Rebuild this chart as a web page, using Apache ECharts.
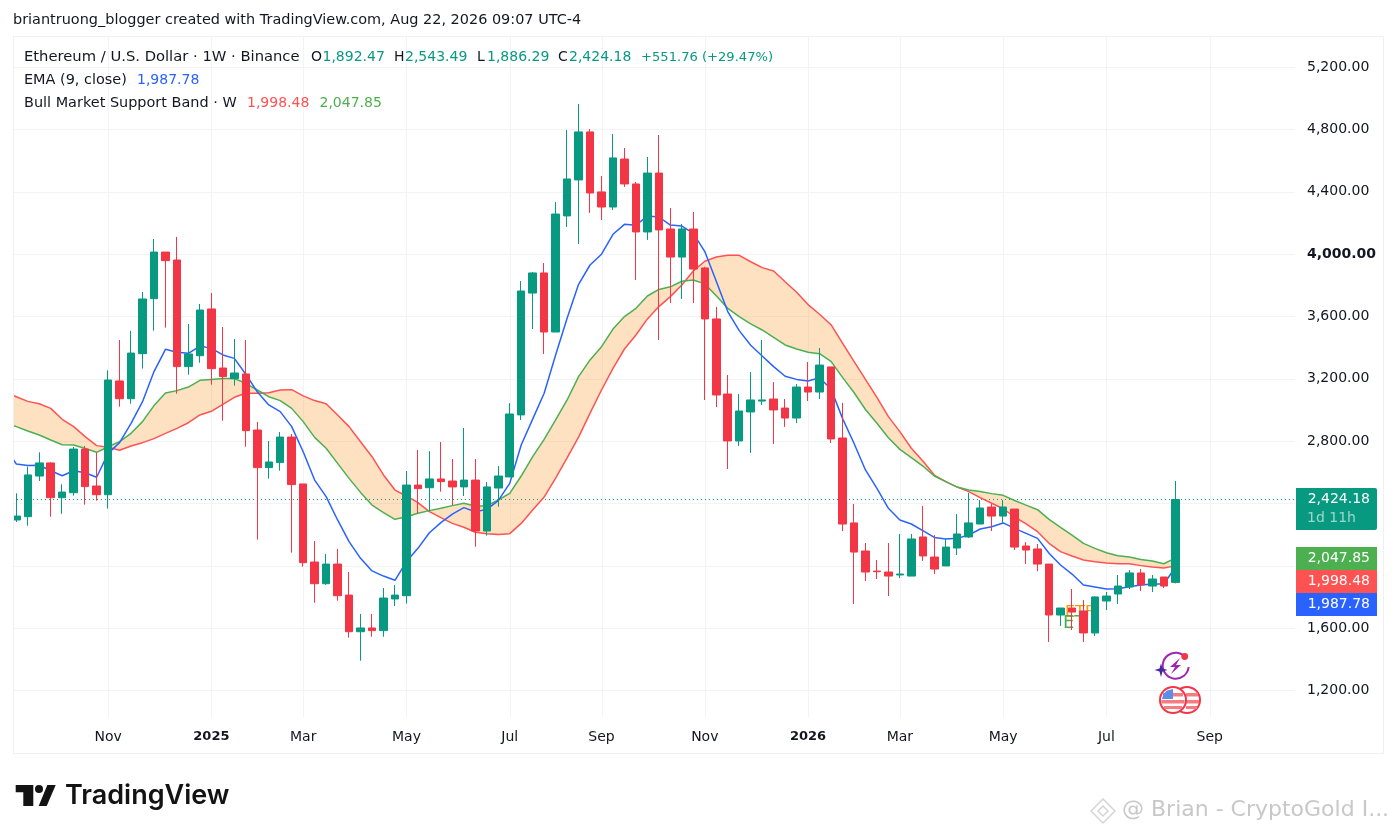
<!DOCTYPE html>
<html><head><meta charset="utf-8">
<style>html,body{margin:0;padding:0;background:#fff}#c{width:1397px;height:836px}</style>
<script src="https://cdn.jsdelivr.net/npm/echarts@6/dist/echarts.min.js"></script>
</head><body><div id="c"></div>
<script>
const opens=[2293,2314,2575,2659,2436,2468,2748,2511,2455,3185,3071,3360,3713,4012,3961,3277,3347,3647,3268,3200,3230,2870,2629,2661,2825,2524,2023,1884,2010,1811,1576,1600,1583,1786,1807,2517,2500,2556,2543,2505,2549,2222,2498,2569,2967,3749,3878,3499,4244,4475,4783,4398,4301,4609,4449,4141,4519,4160,3980,4160,3910,3583,3101,2800,2986,3056,3069,3011,2947,3146,3114,3275,2819,2274,2094,1965,1959,1940,1933,2184,2055,1998,2113,2184,2267,2376,2318,2363,2126,2107,2010,1683,1728,1709,1568,1773,1818,1863,1953,1869,1927,1892.47];
const highs=[2464,2635,2727,2663,2522,2761,2768,2725,3253,3448,3506,3756,4096,4012,4109,3551,3679,3749,3531,3454,3448,2922,2800,2857,2845,2524,2158,2075,2107,1959,1690,1690,1856,1876,2607,2742,2735,2793,2684,2883,2684,2537,2639,3043,3826,3884,3942,4333,4795,4962,4802,4500,4770,4680,4462,4622,4763,4295,4192,4269,3918,3660,3223,3101,3242,3448,3178,3069,3165,3307,3396,3275,3044,2395,2145,2036,2145,2203,2203,2383,2196,2171,2331,2466,2421,2395,2421,2363,2151,2139,2010,1728,1850,1779,1805,1831,1940,1972,1978,1940,1927,2543.49];
const lows=[2280,2256,2543,2314,2333,2449,2391,2417,2366,3020,3039,3264,3508,3527,3103,3225,3302,3161,2930,3155,2763,2167,2558,2609,2083,1993,1762,1876,1775,1538,1390,1544,1544,1741,1756,2336,2351,2475,2389,2447,2122,2192,2378,2569,2935,3518,3358,3499,4173,4064,4263,4218,4282,4430,3833,4090,3448,3685,3711,3685,3063,3018,2620,2768,2723,3031,2780,2890,2915,3056,3069,2787,2222,1754,1901,1914,1805,1920,1933,2030,1946,1998,2068,2177,2267,2222,2267,2100,2010,1965,1510,1613,1587,1510,1548,1715,1754,1850,1837,1831,1856,1886.29];
const closes=[2318,2582,2659,2436,2472,2748,2507,2455,3191,3071,3364,3711,4012,3957,3277,3358,3640,3264,3213,3236,2866,2629,2665,2825,2520,2019,1884,2010,1807,1576,1600,1583,1792,1811,2517,2494,2556,2539,2505,2549,2222,2505,2575,2973,3762,3878,3499,4256,4481,4783,4391,4301,4616,4449,4141,4519,4154,3980,4160,3903,3583,3095,2800,2992,3063,3063,2999,2947,3146,3114,3287,2813,2267,2087,1959,1961,1933,1946,2171,2062,1978,2119,2203,2274,2370,2318,2376,2119,2100,2010,1683,1728,1702,1568,1799,1805,1869,1953,1876,1914,1869,2424.18];
const emaPrior=2760, bandRedPrior=3112, bandGreenPrior=2918;
const emaLine=[2652,2642,2644,2609,2577,2609,2596,2567,2720,2789,2913,3052,3245,3388,3369,3362,3409,3394,3352,3330,3228,3115,3031,2988,2892,2731,2549,2443,2293,2154,2047,1966,1933,1906,2026,2111,2211,2276,2331,2372,2346,2361,2417,2528,2774,2940,3106,3352,3587,3805,3929,3998,4126,4190,4184,4244,4237,4185,4179,4132,4015,3825,3630,3508,3414,3345,3277,3215,3195,3185,3206,3133,2945,2785,2614,2496,2368,2293,2267,2224,2181,2171,2175,2196,2235,2250,2274,2239,2207,2175,2079,2004,1946,1876,1863,1850,1852,1865,1876,1882,1882,1987.78];
const bandRed=[3084,3054,3039,3009,2939,2892,2828,2770,2759,2740,2768,2789,2815,2849,2881,2917,2967,2990,3035,3080,3106,3106,3109,3127,3129,3089,3059,3039,2967,2892,2795,2699,2582,2485,2447,2404,2346,2308,2271,2246,2214,2205,2199,2205,2271,2357,2440,2562,2691,2825,2979,3127,3266,3390,3480,3583,3662,3726,3801,3891,3953,3980,3991,3991,3950,3912,3891,3822,3754,3675,3613,3546,3428,3310,3195,3080,2956,2860,2753,2671,2581,2539,2504,2475,2436,2400,2365,2312,2268,2218,2143,2090,2062,2036,2025,2017,2012,2012,2000,1991,1985,1998.48];
const bandGreen=[2892,2864,2838,2806,2776,2774,2751,2727,2763,2796,2849,2924,3027,3108,3123,3146,3189,3195,3200,3200,3170,3127,3084,3059,3009,2924,2823,2753,2656,2560,2470,2389,2340,2297,2314,2336,2353,2368,2385,2400,2383,2383,2421,2464,2575,2699,2810,2935,3063,3213,3320,3405,3518,3598,3651,3730,3772,3789,3825,3833,3808,3732,3651,3598,3551,3512,3465,3416,3390,3369,3360,3311,3208,3111,3002,2913,2821,2746,2693,2639,2575,2539,2504,2485,2475,2462,2451,2418,2388,2359,2297,2246,2196,2143,2111,2083,2064,2055,2040,2030,2012,2047.85];
const monthWeek=[8,17,25,34,43,51,60,69,77,86,95,104];
const monthLabels=['Nov','2025','Mar','May','Jul','Sep','Nov','2026','Mar','May','Jul','Sep'];
const priceTicks=[1200,1600,2000,2400,2800,3200,3600,4000,4400,4800,5200];
const lastPrice=2424.18, emaLast=1987.78, redLast=1998.48, greenLast=2047.85;

const UI='"DejaVu Sans",sans-serif';
const GREEN='#089981',RED='#F23645',BLUE='#2962FF',BR='#FF5252',BG='#4CAF50',TXT='#131722',GRID='#F3F3F3';
const chart=echarts.init(document.getElementById('c'),null,{renderer:'canvas'});
const yMin=1028.7,yMax=5392;
const fmtPrice=v=>Number(v).toLocaleString('en-US',{minimumFractionDigits:2,maximumFractionDigits:2});
const withPrior=(prior,arr)=>[[-1,prior]].concat(arr.map((v,i)=>[i,v]));

const txt=(x,y,s,fill,size)=>({type:'text',x:x,y:y,style:{text:s,fill:fill,font:(size||14)+'px '+UI,textVerticalAlign:'middle'},z:20});
const tag=(y,h,fill,label)=>([
 {type:'rect',shape:{x:1296,y:y,width:81,height:h},style:{fill:fill},z:20},
 {type:'text',x:1370,y:y+h/2,style:{text:label,fill:'#fff',font:'14px '+UI,textAlign:'right',textVerticalAlign:'middle'},z:21}
]);
const graphics=[
 {type:'rect',shape:{x:0,y:37,width:13,height:680},style:{fill:'#fff'},z:15,silent:true},
 {type:'rect',shape:{x:13.5,y:36.5,width:1370,height:717},style:{fill:'none',stroke:'#F0F0F0',lineWidth:1},z:16,silent:true},
 txt(13,20.5,'briantruong_blogger created with TradingView.com, Aug 22, 2026 09:07 UTC-4',TXT,14.45),
 txt(24,57.5,'Ethereum / U.S. Dollar · 1W · Binance',TXT,14.75),
 txt(311,57.5,'O',TXT),txt(322.5,57.5,'1,892.47',GREEN),
 txt(394,57.5,'H',TXT),txt(405,57.5,'2,543.49',GREEN),
 txt(477,57.5,'L',TXT),txt(487,57.5,'1,886.29',GREEN),
 txt(558,57.5,'C',TXT),txt(569,57.5,'2,424.18',GREEN),
 txt(641,57.5,'+551.76 (+29.47%)',GREEN,13.1),
 txt(24,80.5,'EMA (9, close)',TXT,14.45),txt(137,80.5,'1,987.78',BLUE),
 txt(24,103.5,'Bull Market Support Band · W',TXT,14.45),txt(247,103.5,'1,998.48',BR),txt(319.5,103.5,'2,047.85',BG),
 // current price tag
 {type:'rect',shape:{x:1296,y:488,width:81,height:42,r:[0,2,2,0]},style:{fill:GREEN},z:20},
 {type:'text',x:1370,y:499,style:{text:fmtPrice(lastPrice),fill:'#fff',font:'14px '+UI,textAlign:'right',textVerticalAlign:'middle'},z:21},
 {type:'text',x:1307,y:518,style:{text:'1d 11h',fill:'rgba(255,255,255,0.6)',font:'14px '+UI,textVerticalAlign:'middle'},z:21},
 ...tag(547,23,BG,fmtPrice(greenLast)),...tag(570,23,BR,fmtPrice(redLast)),...tag(593,23,BLUE,fmtPrice(emaLast)),
 // ETF markers behind candles
 {type:'text',x:1065,y:613,style:{text:'ETF',fill:'#FF9800',font:'16px '+UI,textVerticalAlign:'middle'},z:1},
 {type:'text',x:1063,y:623.5,style:{text:'ET',fill:BG,font:'18px '+UI,textVerticalAlign:'middle'},z:1},
 // lightning event badge
 {type:'arc',shape:{cx:1175.7,cy:665.7,r:13,startAngle:0.1,endAngle:5.3},style:{stroke:'#9C27B0',fill:'none',lineWidth:2},z:10},
 {type:'polygon',shape:{points:[[1180,658],[1170,667],[1175,667],[1171,674],[1181,665],[1176,665]]},style:{fill:'#9C27B0'},z:10},
 {type:'circle',shape:{cx:1184.7,cy:656.5,r:3.4},style:{fill:RED},z:11},
 {type:'polygon',shape:{points:[[1161,663.5],[1162.5,668.5],[1167.5,670],[1162.5,671.5],[1161,677],[1159.5,671.5],[1154.5,670],[1159.5,668.5]]},style:{fill:'#4527A0'},z:11},
 // US flag badges
 {type:'circle',shape:{cx:1187,cy:700,r:13},style:{fill:'#fff',stroke:'#F23645',lineWidth:2},z:10},
 {type:'rect',shape:{x:1186,y:693,width:12,height:3.5},style:{fill:'#F77C80'},z:10},
 {type:'rect',shape:{x:1186,y:700,width:13,height:3.5},style:{fill:'#F77C80'},z:10},
 {type:'rect',shape:{x:1186,y:706,width:11,height:3},style:{fill:'#F77C80'},z:10},
 {type:'circle',shape:{cx:1173,cy:700,r:13},style:{fill:'#fff',stroke:'#F23645',lineWidth:2},z:12},
 {type:'rect',shape:{x:1163,y:693,width:20,height:3.5},style:{fill:'#F77C80'},z:12},
 {type:'rect',shape:{x:1161.5,y:700,width:23,height:3.5},style:{fill:'#F77C80'},z:12},
 {type:'rect',shape:{x:1164,y:706,width:18,height:3},style:{fill:'#F77C80'},z:12},
 {type:'polygon',shape:{points:[[1173,689],[1173,699],[1162,699],[1163.5,694],[1167,690.5]]},style:{fill:'#5B8DEF'},z:13},
 // TradingView logo
 {type:'polygon',shape:{points:[[15.7,785],[33.3,785],[33.3,806],[23.3,806],[23.3,792.3],[15.7,792.3]]},style:{fill:'#131313'},z:20},
 {type:'circle',shape:{cx:39,cy:789,r:4},style:{fill:'#131313'},z:20},
 {type:'polygon',shape:{points:[[47.3,785],[55.7,785],[46.7,806],[38.7,806]]},style:{fill:'#131313'},z:20},
 {type:'text',x:65,y:796,style:{text:'TradingView',fill:'#131313',font:'600 27px Inter,sans-serif',textVerticalAlign:'middle'},z:20},
 // watermark
 {type:'polygon',shape:{points:[[1103,799],[1115,811],[1103,823],[1091,811]]},style:{fill:'none',stroke:'#D5D5D5',lineWidth:1.5},z:20},
 {type:'polygon',shape:{points:[[1103,806],[1108,811],[1103,816],[1098,811]]},style:{fill:'none',stroke:'#D5D5D5',lineWidth:1.5},z:20},
 {type:'text',x:1122,y:810,style:{text:'@ Brian - CryptoGold I...',fill:'#C8C8C8',font:'22px '+UI,textVerticalAlign:'middle'},z:20}
];

chart.setOption({
 animation:false,backgroundColor:'#fff',
 grid:{left:13,top:37,width:1282,height:680,containLabel:false},
 xAxis:{type:'value',min:(13-16.3)/11.475,max:(1295-16.3)/11.475,
  axisLine:{show:false},axisTick:{show:false},splitLine:{show:false},
  axisLabel:{customValues:monthWeek,margin:13,fontFamily:UI,fontSize:14,color:TXT,
   formatter:v=>{const s=monthLabels[monthWeek.indexOf(v)]||'';return /^\d/.test(s)?'{b|'+s+'}':s;},
   rich:{b:{fontWeight:'bold',fontFamily:UI,fontSize:13,color:TXT}}}},
 yAxis:{type:'value',position:'right',min:yMin,max:yMax,
  axisLine:{show:false},axisTick:{show:false},
  splitLine:{show:false},
  axisLabel:{customValues:priceTicks,margin:12,fontFamily:UI,fontSize:14,color:TXT,align:'left',
   formatter:v=>v===4000?'{b|'+fmtPrice(v)+'}':fmtPrice(v),
   rich:{b:{fontWeight:'bold',fontFamily:UI,fontSize:14,color:TXT}}}},
 graphic:graphics,
 series:[
  {type:'custom',name:'monthGrid',z:0,silent:true,clip:true,data:monthWeek.map(i=>[i,yMin]),encode:{x:0,y:1},
   renderItem:(p,api)=>{const a=api.coord([api.value(0),yMin]),b=api.coord([api.value(0),yMax]);const x=Math.round(a[0])+0.5;
    return {type:'line',shape:{x1:x,y1:a[1],x2:x,y2:b[1]},style:{stroke:GRID,lineWidth:1}};}},
  {type:'custom',name:'priceGrid',z:0,silent:true,clip:true,data:priceTicks.map(v=>[0,v]),encode:{x:0,y:1},
   renderItem:(p,api)=>{const a=api.coord([-1,api.value(1)]),b=api.coord([120,api.value(1)]);const y=Math.round(a[1])+0.5;
    return {type:'line',shape:{x1:a[0],y1:y,x2:b[0],y2:y},style:{stroke:GRID,lineWidth:1}};}},
  {type:'custom',name:'Band fill',z:1,silent:true,clip:true,data:[[0,bandRed[0]]],encode:{x:0,y:1},
   renderItem:(p,api)=>{const r=withPrior(bandRedPrior,bandRed),g=withPrior(bandGreenPrior,bandGreen);const pts=r.map(d=>api.coord(d));
    for(let i=g.length-1;i>=0;i--)pts.push(api.coord(g[i]));
    return {type:'polygon',shape:{points:pts},style:{fill:'rgba(248,168,70,0.34)'}};}},
  {type:'line',name:'Band SMA',z:2,data:withPrior(bandRedPrior,bandRed),showSymbol:false,silent:true,clip:true,lineStyle:{color:BR,width:1.5},itemStyle:{color:BR}},
  {type:'line',name:'Band EMA',z:2,data:withPrior(bandGreenPrior,bandGreen),showSymbol:false,silent:true,clip:true,lineStyle:{color:BG,width:1.5},itemStyle:{color:BG}},
  {type:'line',name:'EMA 9',z:2,data:withPrior(emaPrior,emaLine),showSymbol:false,silent:true,clip:true,lineStyle:{color:BLUE,width:1.5},itemStyle:{color:BLUE}},
  {type:'candlestick',name:'ETHUSD',z:3,barWidth:8,clip:true,silent:true,
   data:opens.map((o,i)=>[i,o,closes[i],lows[i],highs[i]]),encode:{x:0,y:[1,2,3,4]},
   itemStyle:{color:GREEN,color0:RED,borderColor:GREEN,borderColor0:RED,borderWidth:1},
   markLine:{silent:true,symbol:'none',label:{show:false},z:2,animation:false,
    lineStyle:{color:GREEN,type:[1,3],width:1},data:[{yAxis:lastPrice}]}}
 ]
});
</script></body></html>
